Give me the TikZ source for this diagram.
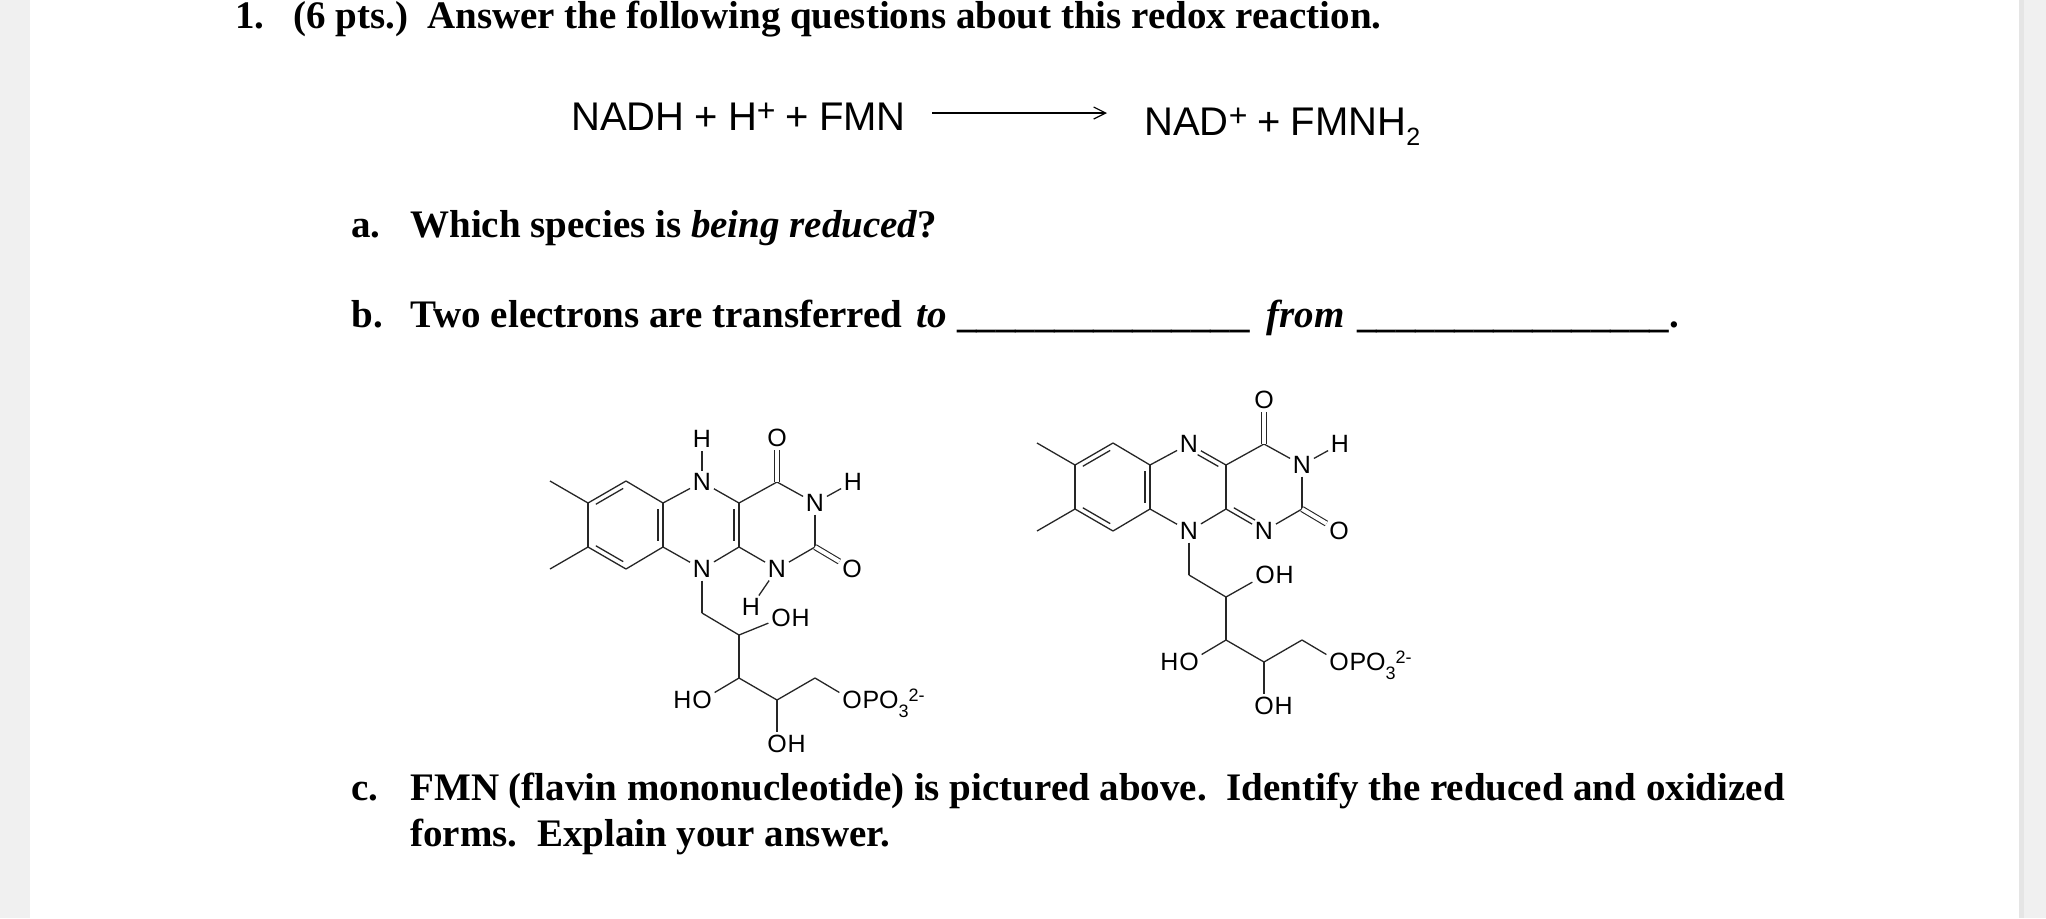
\documentclass[tikz,border=0pt]{standalone}
\usepackage{fontspec}
\setmainfont{Liberation Serif}
\newfontfamily\chemfont{Liberation Sans}
\newfontfamily\eqnfont[WordSpace=0.9]{Liberation Sans}
\usepackage{tikz}
\usetikzlibrary{calc,arrows.meta}

\tikzset{
  bond/.style={line width=.65pt, black!85},
  atom/.style={font=\chemfont\fontsize{12.5}{15}\selectfont, inner sep=2.5*.5pt},
  attachright/.style={font=\chemfont\fontsize{12.5}{15}\selectfont, anchor=base west, inner sep=0pt, xshift=-1.25pt},
  attachleft/.style={font=\chemfont\fontsize{12.5}{15}\selectfont, anchor=base east, inner sep=0pt, xshift=1.25pt},
  question/.style={font=\bfseries\fontsize{19.5}{23}\selectfont, anchor=base west, inner sep=0pt},
  equation/.style={font=\eqnfont\fontsize{20}{24}\selectfont, anchor=base west, inner sep=0pt}
}

% Inner line of a ring double bond, on the left of the way from #1 to #2
\newcommand{\dblbond}[4]{\draw[bond] ($(#1)!#3!(#2)!2.5pt!90:(#2)$) -- ($(#2)!#4!(#1)!2.5pt!-90:(#1)$);}
\newcommand{\eqnsup}[1]{\raisebox{4.5pt}{\fontsize{16}{18}\selectfont #1}}
\newcommand{\eqnsub}[1]{\raisebox{-5pt}{\fontsize{12.5}{15}\selectfont #1}}

% Everything both forms of the flavin have in common
\newcommand{\flavinbase}[1]{
  % Carbons:
  \foreach \name/\pos in {cvii/{68,93}, cvi/{106,71}, cva/{143,93}, civa/{219,93}, civ/{257,72}, cii/{295,137},
      cxa/{219,137}, cixa/{143,137}, cix/{106,159}, cviii/{68,137}, mea/{30,71}, meb/{30,159},
      ci/{182,203}, cc/{219,225}, cd/{219,268}, ce/{257,290}, cf/{295,268}}
    \coordinate (\name) at (\pos);
  % Hetero atoms:
  \node[atom] (nv) at (182,72) {N};
  \node[atom] (niii) at (295,93) {N};
  \node[atom] (hiii) at (333,72) {H};
  \node[atom] (oii) at (332,159) {O};
  \node[atom] (ni) at (257,159) {N};
  \node[atom] (nx) at (182,159) {N};
  \node[atom] (oiv) at (257,28) {O};
  \node[atom] (ohc) at (#1) {O};
  \node[attachright] (ohch) at (ohc.base east) {H};
  \node[atom] (ohd) at (182,290) {O};
  \node[attachleft] (ohdh) at (ohd.base west) {H};
  \node[atom] (ohe) at (257,334) {O};
  \node[attachright] (oheh) at (ohe.base east) {H};
  \node[atom] (opo) at (332,290) {O};
  \node[attachright] (opor) at (opo.base east) {PO\raisebox{-4.5pt}{\fontsize{9}{10}\selectfont 3}\raisebox{3.5pt}{\fontsize{9}{10}\selectfont 2-}};
  % Bonds:
  \foreach \a/\b in {mea/cvii, meb/cviii, cvii/cvi, cvi/cva, cva/cixa, cixa/cix, cix/cviii, cviii/cvii,
      cva/nv, nv/civa, civa/cxa, cxa/nx, nx/cixa, civa/civ, civ/niii, niii/hiii, niii/cii, cii/ni, ni/cxa,
      nx/ci, ci/cc, cc/cd, cd/ce, ce/cf, cc/ohc, cd/ohd, cf/opo}
    \draw[bond] (\a) -- (\b);
  \draw[bond] (ce) -- (ce |- ohe.north);
  \draw[bond, double, double distance=2pt, line width=.55pt] (civ) -- (oiv);
  \draw[bond, double, double distance=2pt, line width=.55pt] (cii) -- (oii);
  \dblbond{cvi}{cvii}{.14}{.14}
  \dblbond{cviii}{cix}{.14}{.14}
  \dblbond{cixa}{cva}{.14}{.14}
}

\begin{document}
\begin{tikzpicture}[x=.5pt, y=-.5pt]
  \useasboundingbox (0,0) rectangle (2046,918);
  % Page:
  \fill[black!6] (0,0) rectangle (2046,918);
  \fill[black!10] (2019,0) rectangle (2024,918);
  \fill[white] (30,0) rectangle (2019,918);

  % Question:
  \node[question] (numone) at (235,28) {1.};
  \node[question] (pts) at (293,28) {(6 pts.)};
  \node[question] (title) at (427,28) {Answer the following questions about this redox reaction.};

  % Reaction:
  \node[equation] (eqleft) at (571,130) {NADH + H\eqnsup{+} + FMN};
  \node[equation] (eqright) at (1144,135) {NAD\eqnsup{+} + FMNH\eqnsub{2}};
  \coordinate (arrowfrom) at (932,113);
  \coordinate (arrowto) at (1107,113);
  \draw[line width=.6pt, -{Straight Barb[length=6pt,width=6pt]}] (arrowfrom) -- (arrowto);

  % Parts a and b:
  \node[question] (parta) at (351,237) {a.};
  \node[question] (textta) at (410,237) {Which species is \textit{being reduced}?};
  \node[question] (partb) at (351,327) {b.};
  \node[question] (texttb) at (410,327) {Two electrons are transferred\hspace{2pt} \textit{to}};
  \node[question] (blanka) at (957,327) {\_\_\_\_\_\_\_\_\_\_\_\_\_\_\_};
  \node[question] (from) at (1266,327) {\textit{from}};
  \node[question] (blankb) at (1357,327) {\_\_\_\_\_\_\_\_\_\_\_\_\_\_\_\_.};

  % Reduced form:
  \begin{scope}[shift={(520,410)}, name prefix=r-]
    \flavinbase{261,208}
    \node[atom] (hv) at (182,29) {H};
    \node[atom] (hi) at (231,197) {H};
    \draw[bond] (nv) -- (hv);
    \draw[bond] (ni) -- (hi);
    \dblbond{cxa}{civa}{.14}{.14}
  \end{scope}

  % Oxidized form:
  \begin{scope}[shift={(1007,372)}, name prefix=o-]
    \flavinbase{258,203}
    \dblbond{civa}{nv}{.14}{.3}
    \dblbond{cxa}{ni}{.14}{.3}
  \end{scope}

  % Part c:
  \node[question] (partc) at (351,800) {c.};
  \node[question] (texttc) at (410,800) {FMN (flavin mononucleotide) is pictured above.\ \ Identify the reduced and oxidized};
  \node[question] (texttd) at (410,846) {forms.\ \ Explain your answer.};
\end{tikzpicture}
\end{document}
